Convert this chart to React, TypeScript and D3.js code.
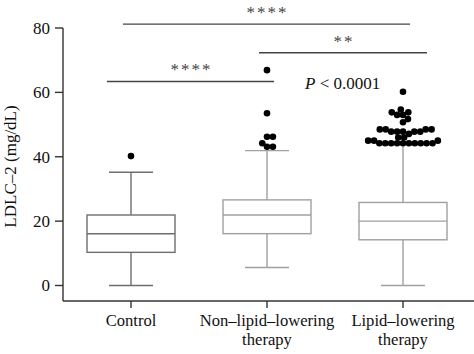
import React, { useEffect, useRef } from 'react';
import * as d3 from 'd3';

// groups and box statistics (mg/dL)
const groups = ['Control', 'Non-lipid-lowering therapy', 'Lipid-lowering therapy'];
const groupLabels = [['Control'], ['Non–lipid–lowering', 'therapy'], ['Lipid–lowering', 'therapy']];
const whiskerLow = [0, 5.6, 0];
const q1 = [10.3, 16.1, 14.2];
const medians = [16.1, 21.9, 20.0];
const q3 = [21.9, 26.6, 25.8];
const whiskerHigh = [35.2, 41.9, 43.8];
const boxColors = ['#6e6e6e', '#a0a0a0', '#a0a0a0'];

const controlOutliers = [40.2];
const nonLipidOutliers = [66.9, 53.5, 46.2, 46.2, 44.2, 43.1, 43.1];
const lipidOutliers = [
	60.2, 54.7, 53.8, 53.8, 53.0, 53.0, 51.7, 50.7, 48.5, 48.5, 48.5, 48.5, 47.8,
	47.8, 47.8, 47.8, 47.8, 47.1, 46.0, 46.0, 45.0, 45.0, 45.0, 44.2, 44.2, 44.2,
	44.2, 44.2, 44.2, 44.2, 44.2, 44.2, 44.2,
];
const outliers = [controlOutliers, nonLipidOutliers, lipidOutliers];

const yTicks = [0, 20, 40, 60, 80];

// significance brackets: [from group, to group, value level, label]
const bracketFrom = [0, 1, 0];
const bracketTo = [2, 2, 1];
const bracketLevel = [81.2, 72.3, 63.4];
const bracketLabel = ['****', '**', '****'];

const W = 474;
const H = 354;
const FONT = '"Liberation Serif", "DejaVu Serif", serif';

// simple beeswarm: offsets so dots of same height spread sideways
function swarm(values: number[], y: (v: number) => number, d: number) {
	const placed: { x: number; y: number }[] = [];
	const sorted = values.map((v, i) => ({ v, i })).sort((a, b) => a.v - b.v);
	const out = new Array(values.length).fill(0);
	sorted.forEach(({ v, i }) => {
		const py = y(v);
		const cands = [0];
		placed.forEach((p) => {
			const dy = Math.abs(p.y - py);
			if (dy < d) {
				const dx = Math.sqrt(d * d - dy * dy);
				cands.push(p.x + dx + 0.01, p.x - dx - 0.01);
			}
		});
		cands.sort((a, b) => Math.abs(a) - Math.abs(b));
		const x =
			cands.find((c) =>
				placed.every((p) => (p.x - c) ** 2 + (p.y - py) ** 2 >= d * d - 0.001),
			) ?? 0;
		placed.push({ x, y: py });
		out[i] = x;
	});
	return out;
}

const App: React.FC = () => {
	const ref = useRef<SVGSVGElement>(null);

	useEffect(() => {
		if (!ref.current) return;
		const svg = d3.select(ref.current);
		svg.selectAll('*').remove();

		const x = d3.scaleBand().domain(groups).range([63, 471]);
		const y = d3.scaleLinear().domain([0, 80]).range([285.5, 28]);
		const axisY = 301;
		const bw = x.bandwidth() * 0.647;
		const cx = (i: number) => (x(groups[i]) ?? 0) + x.bandwidth() / 2;

		// --- axes ---
		svg
			.append('line')
			.attr('x1', 63)
			.attr('x2', 63)
			.attr('y1', y(80))
			.attr('y2', axisY)
			.attr('stroke', '#333')
			.attr('stroke-width', 1.4);
		svg
			.append('line')
			.attr('x1', 63)
			.attr('x2', W)
			.attr('y1', axisY)
			.attr('y2', axisY)
			.attr('stroke', '#333')
			.attr('stroke-width', 1.4);

		const yt = svg.append('g').selectAll('g').data(yTicks).enter().append('g');
		yt.append('line')
			.attr('x1', 55)
			.attr('x2', 63)
			.attr('y1', (d) => y(d))
			.attr('y2', (d) => y(d))
			.attr('stroke', '#333')
			.attr('stroke-width', 1.4);
		yt.append('text')
			.attr('x', 50)
			.attr('y', (d) => y(d))
			.attr('dy', '0.34em')
			.attr('text-anchor', 'end')
			.attr('font-family', FONT)
			.attr('font-size', 17)
			.attr('fill', '#111')
			.text((d) => d);

		svg
			.append('text')
			.attr('transform', `translate(16,${(y(80) + axisY) / 2 + 2}) rotate(-90)`)
			.attr('text-anchor', 'middle')
			.attr('font-family', FONT)
			.attr('font-size', 17)
			.attr('fill', '#111')
			.text('LDLC–2 (mg/dL)');

		const xt = svg.append('g').selectAll('g').data(groups).enter().append('g');
		xt.append('line')
			.attr('x1', (d, i) => cx(i))
			.attr('x2', (d, i) => cx(i))
			.attr('y1', axisY)
			.attr('y2', axisY + 7)
			.attr('stroke', '#333')
			.attr('stroke-width', 1.4);
		xt.each(function (d, i) {
			groupLabels[i].forEach((line, k) => {
				d3.select(this)
					.append('text')
					.attr('text-anchor', 'middle')
					.attr('font-family', FONT)
					.attr('font-size', 16.6)
					.attr('fill', '#111')
					.attr('x', cx(i))
					.attr('y', 325.5 + k * 19)
					.text(line);
			});
		});

		// --- boxes ---
		groups.forEach((g, i) => {
			const c = cx(i);
			const grp = svg
				.append('g')
				.attr('stroke', boxColors[i])
				.attr('stroke-width', 1.4)
				.attr('fill', 'none');
			grp.append('rect')
				.attr('x', c - bw / 2)
				.attr('y', y(q3[i]))
				.attr('width', bw)
				.attr('height', y(q1[i]) - y(q3[i]));
			grp.append('line')
				.attr('x1', c - bw / 2)
				.attr('x2', c + bw / 2)
				.attr('y1', y(medians[i]))
				.attr('y2', y(medians[i]));
			grp.append('line')
				.attr('x1', c)
				.attr('x2', c)
				.attr('y1', y(q3[i]))
				.attr('y2', y(whiskerHigh[i]));
			grp.append('line')
				.attr('x1', c)
				.attr('x2', c)
				.attr('y1', y(q1[i]))
				.attr('y2', y(whiskerLow[i]));
			[whiskerHigh[i], whiskerLow[i]].forEach((v) => {
				grp.append('line')
					.attr('x1', c - bw / 4)
					.attr('x2', c + bw / 4)
					.attr('y1', y(v))
					.attr('y2', y(v));
			});

			const offs = swarm(outliers[i], y, 5.9);
			svg
				.append('g')
				.selectAll('circle')
				.data(outliers[i])
				.enter()
				.append('circle')
				.attr('cx', (d, k) => c + offs[k])
				.attr('cy', (d) => y(d))
				.attr('r', 3.3)
				.attr('fill', '#000');
		});

		// --- significance brackets ---
		bracketLabel.forEach((lab, k) => {
			const x1 = cx(bracketFrom[k]) - 8 - (k === 2 ? 16 : 0);
			const x2 = cx(bracketTo[k]) + 7 + (k === 1 ? 17 : 0);
			const ly = y(bracketLevel[k]);
			svg
				.append('line')
				.attr('x1', x1)
				.attr('x2', x2)
				.attr('y1', ly)
				.attr('y2', ly)
				.attr('stroke', '#444')
				.attr('stroke-width', 1.4);
			svg
				.append('text')
				.attr('x', (x1 + x2) / 2 + 1)
				.attr('y', ly - 6)
				.attr('text-anchor', 'middle')
				.attr('font-family', FONT)
				.attr('font-size', 17)
				.attr('letter-spacing', 2)
				.attr('fill', '#444')
				.text(lab);
		});

		svg
			.append('text')
			.attr('x', 305)
			.attr('y', 89)
			.attr('font-family', FONT)
			.attr('font-size', 17)
			.attr('fill', '#111')
			.html('<tspan font-style="italic">P</tspan> &lt; 0.0001');
	}, []);

	return (
		<div style={{ position: 'absolute', left: 0, top: 0, width: W, height: H, background: '#fff' }}>
			<svg ref={ref} width={W} height={H} />
		</div>
	);
};

export default App;
